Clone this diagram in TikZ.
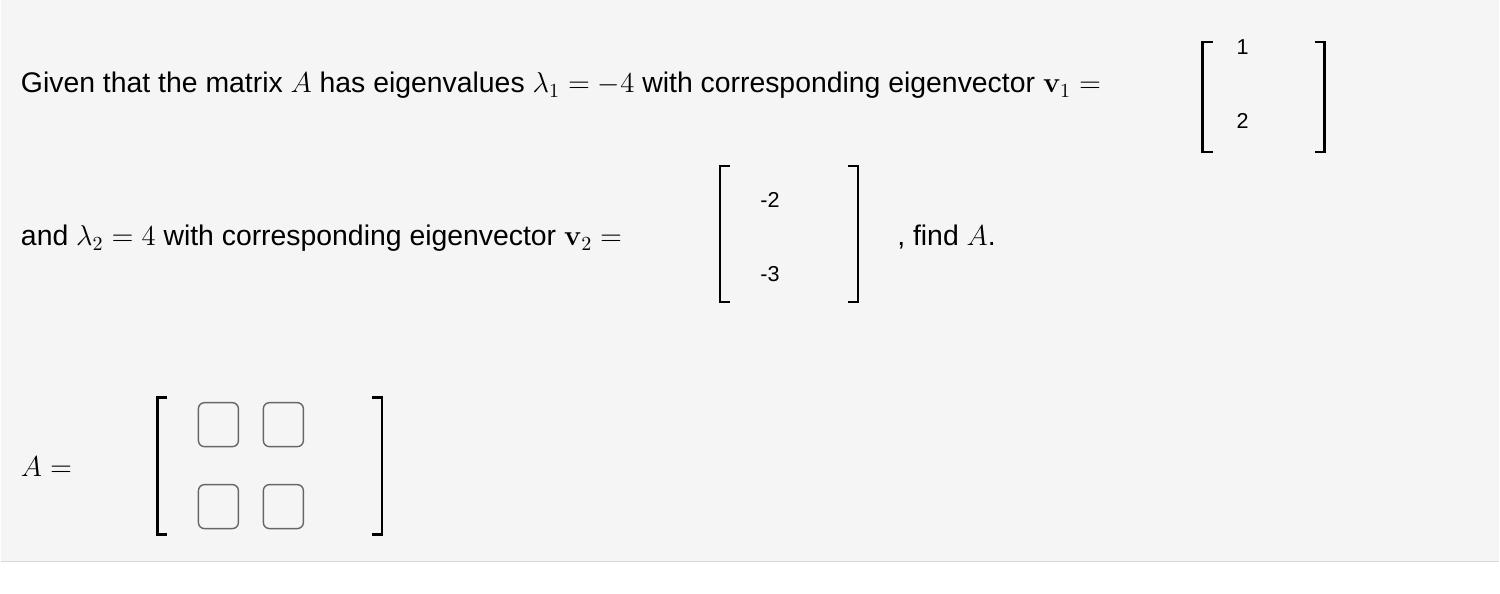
\documentclass[tikz,border=0pt]{standalone}
\usepackage[no-math]{fontspec}
\setmainfont{Liberation Sans}
\begin{document}
\begin{tikzpicture}[x=0.5pt,y=-0.5pt,
  txt/.style={anchor=base west,inner sep=0,font=\fontsize{14.2}{16}\selectfont},
  ent/.style={anchor=center,inner sep=0,font=\fontsize{10.8}{12}\selectfont},
  brk/.style={line width=1.2pt},
  ansbox/.style={draw=black!60,line width=0.7pt,rounded corners=3pt,minimum width=20pt,minimum height=22pt,inner sep=0}]
\fill[fill={rgb,255:red,245;green,245;blue,245}] (0,0) rectangle (1500,562);
\fill[white] (0,562) rectangle (1500,594);
\draw[black!15,line width=0.6pt] (0,562) -- (1500,562);
\useasboundingbox (0,0) rectangle (1500,594);
\node[txt] (l1) at (20,93) {Given that the matrix $A$ has eigenvalues $\lambda_1=-4$ with corresponding eigenvector $\mathbf{v}_1=$};
% v1
\draw[brk] (1213,42) -- (1203,42) -- (1203,152) -- (1213,152);
\draw[brk] (1315,42) -- (1325,42) -- (1325,152) -- (1315,152);
\node[ent] (a1) at (1243,47) {1};
\node[ent] (a2) at (1243,121) {2};
\node[txt] (l2) at (20,246) {and $\lambda_2=4$ with corresponding eigenvector $\mathbf{v}_2=$};
% v2
\draw[brk] (730,166) -- (720,166) -- (720,302) -- (730,302);
\draw[brk] (848,166) -- (858,166) -- (858,302) -- (848,302);
\node[ent] (b1) at (770,200) {-2};
\node[ent] (b2) at (770,274) {-3};
\node[txt] (l3) at (897,246) {, find $A$.};
\node[txt] (l4) at (20,477) {$A=$};
\draw[brk] (167,398) -- (157,398) -- (157,535) -- (167,535);
\draw[brk] (372,398) -- (382,398) -- (382,535) -- (372,535);
\node[ansbox] (c11) at (218,425) {};
\node[ansbox] (c12) at (283,425) {};
\node[ansbox] (c21) at (218,507) {};
\node[ansbox] (c22) at (283,507) {};
\end{tikzpicture}
\end{document}
